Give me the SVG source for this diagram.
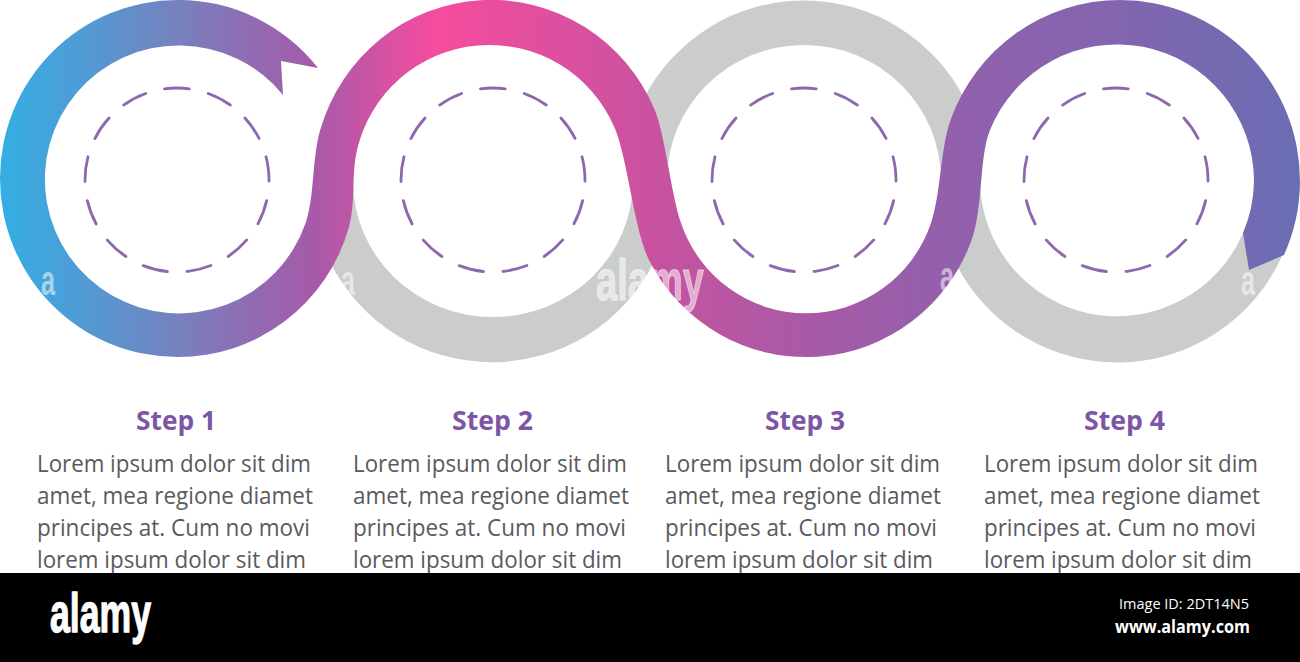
<svg xmlns="http://www.w3.org/2000/svg" width="1300" height="662" viewBox="0 0 1300 662">
<style>
.gray{fill:#cbcdcc}
.dash{fill:none;stroke:#8e67ad;stroke-width:2.8;stroke-linecap:round;stroke-dasharray:.56 .44}
.step{font-family:"Open Sans","Noto Sans",sans-serif;font-weight:700;font-size:26px;fill:#7d55a6}
.body{font-family:"Open Sans","Noto Sans",sans-serif;font-size:23px;fill:#5a5a5d}
.wm{font-family:"Liberation Sans",sans-serif;font-weight:700;fill:#fff;fill-opacity:.55}
</style>
<defs>
<linearGradient id="rib" gradientUnits="userSpaceOnUse" x1="0" y1="0" x2="1300" y2="0">
<stop offset="0" stop-color="#33aee3"/>
<stop offset=".06" stop-color="#4f9cd6"/>
<stop offset=".14" stop-color="#7880bd"/>
<stop offset=".24" stop-color="#a65aa9"/>
<stop offset=".335" stop-color="#f64c9e"/>
<stop offset=".5" stop-color="#c9529f"/>
<stop offset=".62" stop-color="#a85aa6"/>
<stop offset=".74" stop-color="#9160ac"/>
<stop offset=".86" stop-color="#8265ae"/>
<stop offset="1" stop-color="#6a6db3"/>
</linearGradient>
</defs>
<rect width="1300" height="662" fill="#fff"/>
<g id="connectors">
<path class="gray" d="M353,181A140,136 0 0 0 633,181L654,262A181,181 0 0 1 330,262Z"/>
<path class="gray" d="M667,180A137,135 0 0 1 941,180L965,100A180,180 0 0 0 643,100Z"/>
<path class="gray" d="M980,181A137,137 0 0 0 1243,233L1260,240L1282.500,255A181,181 0 0 1 955,262Z"/>
<path id="ribbon" fill="url(#rib)" d="M318,68A177.500,178.500 0 0 0 177.500,0A177.500,178.500 0 0 0 0,178.500A177.500,178.500 0 0 0 177.500,357A177.500,178.500 0 0 0 349,227C355.800,203 351.200,174 357,150A136,136 0 0 1 614.300,127C628.200,159.100 633.700,231 650,262A176,177 0 0 0 971.600,240C983.500,207.100 978.800,157.800 990,130A137,137 0 0 1 1254,181A137,137 0 0 1 1243,233L1249,270L1284,255A180,181 0 0 0 1300,181A180,181 0 0 0 1120,0A180,181 0 0 0 950.500,120C940.400,148.300 940.800,194.600 931,223A132,133 0 0 1 681,223C671.300,194.700 664.800,133.900 654.800,110A178,181 0 0 0 320.200,130C311.800,158.800 314.800,196.500 305.600,223A134,134 0 1 1 283,95L281,61Z"/>
</g>
<g id="step1">
<circle class="dash" cx="177" cy="180" r="92" pathLength="13" transform="rotate(-97.800 177 180)"/>
<text class="step" x="136" y="430" textLength="80" lengthAdjust="spacingAndGlyphs">Step 1</text>
<text class="body" x="37" y="472" textLength="274" lengthAdjust="spacingAndGlyphs">Lorem ipsum dolor sit dim</text>
<text class="body" x="37" y="504" textLength="276" lengthAdjust="spacingAndGlyphs">amet, mea regione diamet</text>
<text class="body" x="37" y="536" textLength="273" lengthAdjust="spacingAndGlyphs">principes at. Cum no movi</text>
<text class="body" x="37" y="568" textLength="269" lengthAdjust="spacingAndGlyphs">lorem ipsum dolor sit dim</text>
</g>
<g id="step2">
<circle class="dash" cx="493" cy="180" r="92" pathLength="13" transform="rotate(-97.800 493 180)"/>
<text class="step" x="452" y="430" textLength="81" lengthAdjust="spacingAndGlyphs">Step 2</text>
<text class="body" x="353" y="472" textLength="274" lengthAdjust="spacingAndGlyphs">Lorem ipsum dolor sit dim</text>
<text class="body" x="353" y="504" textLength="276" lengthAdjust="spacingAndGlyphs">amet, mea regione diamet</text>
<text class="body" x="353" y="536" textLength="273" lengthAdjust="spacingAndGlyphs">principes at. Cum no movi</text>
<text class="body" x="353" y="568" textLength="269" lengthAdjust="spacingAndGlyphs">lorem ipsum dolor sit dim</text>
</g>
<g id="step3">
<circle class="dash" cx="804" cy="180" r="92" pathLength="13" transform="rotate(-97.800 804 180)"/>
<text class="step" x="765" y="430" textLength="80" lengthAdjust="spacingAndGlyphs">Step 3</text>
<text class="body" x="665" y="472" textLength="275" lengthAdjust="spacingAndGlyphs">Lorem ipsum dolor sit dim</text>
<text class="body" x="665" y="504" textLength="276" lengthAdjust="spacingAndGlyphs">amet, mea regione diamet</text>
<text class="body" x="665" y="536" textLength="272" lengthAdjust="spacingAndGlyphs">principes at. Cum no movi</text>
<text class="body" x="665" y="568" textLength="268" lengthAdjust="spacingAndGlyphs">lorem ipsum dolor sit dim</text>
</g>
<g id="step4">
<circle class="dash" cx="1116" cy="180" r="92" pathLength="13" transform="rotate(-97.800 1116 180)"/>
<text class="step" x="1084" y="430" textLength="81" lengthAdjust="spacingAndGlyphs">Step 4</text>
<text class="body" x="984" y="472" textLength="274" lengthAdjust="spacingAndGlyphs">Lorem ipsum dolor sit dim</text>
<text class="body" x="984" y="504" textLength="276" lengthAdjust="spacingAndGlyphs">amet, mea regione diamet</text>
<text class="body" x="984" y="536" textLength="272" lengthAdjust="spacingAndGlyphs">principes at. Cum no movi</text>
<text class="body" x="984" y="568" textLength="268" lengthAdjust="spacingAndGlyphs">lorem ipsum dolor sit dim</text>
</g>
<g id="watermark">
<text class="wm" x="596" y="300" font-size="58" textLength="108" lengthAdjust="spacingAndGlyphs" stroke="#fff" stroke-opacity=".55" stroke-width="1">alamy</text>
<text class="wm" x="41" y="295" font-size="42" textLength="14" lengthAdjust="spacingAndGlyphs">a</text>
<text class="wm" x="341" y="295" font-size="42" textLength="14" lengthAdjust="spacingAndGlyphs">a</text>
<text class="wm" x="940" y="291" font-size="42" textLength="14" lengthAdjust="spacingAndGlyphs">a</text>
<text class="wm" x="1241" y="295" font-size="42" textLength="14" lengthAdjust="spacingAndGlyphs">a</text>
</g>
<g id="footer">
<rect x="0" y="573" width="1300" height="89" fill="#000"/>
<text x="50" y="632" font-family="Liberation Sans,sans-serif" font-weight="700" font-size="55" fill="#fff" stroke="#fff" stroke-width="1.300" textLength="101" lengthAdjust="spacingAndGlyphs">alamy</text>
<text x="1119" y="609" font-family="Open Sans,sans-serif" font-size="15" fill="#fff" textLength="130" lengthAdjust="spacingAndGlyphs">Image ID: 2DT14N5</text>
<text x="1115" y="633" font-family="Open Sans,sans-serif" font-weight="700" font-size="17" fill="#fff" textLength="135" lengthAdjust="spacingAndGlyphs">www.alamy.com</text>
</g>
</svg>
